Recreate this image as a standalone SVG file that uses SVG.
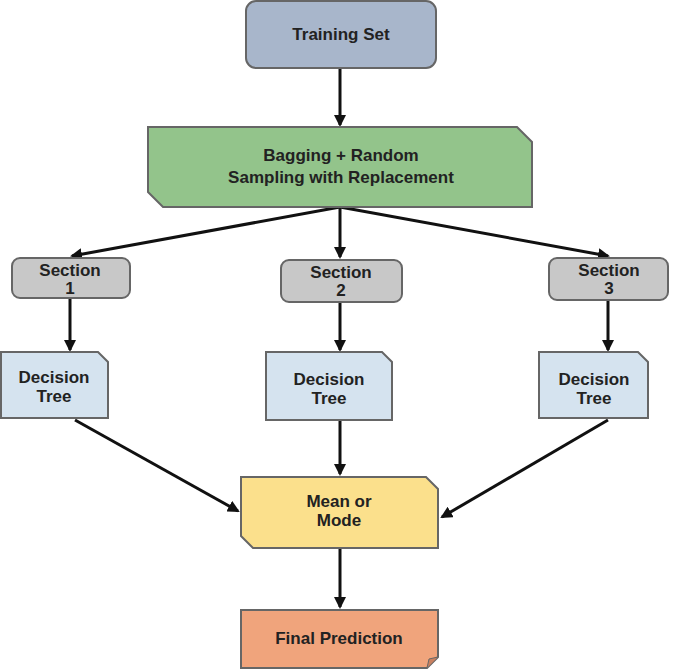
<svg xmlns="http://www.w3.org/2000/svg" width="685" height="671" viewBox="0 0 685 671">
<defs>
<marker id="ah" markerWidth="12" markerHeight="12" refX="10" refY="6" orient="auto" markerUnits="userSpaceOnUse"><path d="M0,0 L12,6 L0,12 z" fill="#111"/></marker>
<style>
.n{stroke:#666;stroke-width:2}
.t{font-family:"Liberation Sans",Arial,sans-serif;font-weight:bold;font-size:17px;fill:#222;text-anchor:middle}
.c line{stroke:#111;stroke-width:3;marker-end:url(#ah)}
</style>
</defs>
<rect width="685" height="671" fill="#fff"/>
<g class="c" id="connectors">
<line x1="340" y1="68" x2="340" y2="125"/>
<line x1="340" y1="207" x2="72" y2="256"/>
<line x1="340" y1="207" x2="340" y2="257"/>
<line x1="340" y1="207" x2="608" y2="256"/>
<line x1="70" y1="298" x2="70" y2="350"/>
<line x1="340" y1="302" x2="340" y2="350"/>
<line x1="608" y1="300" x2="608" y2="350"/>
<line x1="75" y1="420" x2="238" y2="511"/>
<line x1="340" y1="420" x2="340" y2="474"/>
<line x1="608" y1="420" x2="442" y2="517"/>
<line x1="340" y1="548" x2="340" y2="607"/>
</g>
<g id="training"><rect class="n" x="246" y="1" width="190" height="67" rx="10" fill="#a8b6cb"/><text class="t" x="341" y="40">Training Set</text></g>
<g id="bagging"><path class="n" d="M148,127 H517 L532,142 V207 H163 L148,192 Z" fill="#93c48b"/><text class="t" x="341" y="161">Bagging + Random</text><text class="t" x="341" y="183">Sampling with Replacement</text></g>
<g id="s1"><rect class="n" x="12" y="258" width="118" height="40" rx="8" fill="#c8c8c8"/><text class="t" x="70" y="276">Section</text><text class="t" x="70" y="294">1</text></g>
<g id="s2"><rect class="n" x="281" y="260" width="121" height="42" rx="8" fill="#c8c8c8"/><text class="t" x="341" y="278">Section</text><text class="t" x="341" y="296">2</text></g>
<g id="s3"><rect class="n" x="549" y="258" width="119" height="42" rx="8" fill="#c8c8c8"/><text class="t" x="609" y="276">Section</text><text class="t" x="609" y="294">3</text></g>
<g id="dt1"><path class="n" d="M1,352 H98 L108,362 V418 H1 Z" fill="#d5e3ef"/><text class="t" x="54" y="383">Decision</text><text class="t" x="54" y="402">Tree</text></g>
<g id="dt2"><path class="n" d="M266,352 H382 L392,362 V420 H266 Z" fill="#d5e3ef"/><text class="t" x="329" y="385">Decision</text><text class="t" x="329" y="404">Tree</text></g>
<g id="dt3"><path class="n" d="M539,352 H638 L648,362 V418 H539 Z" fill="#d5e3ef"/><text class="t" x="594" y="385">Decision</text><text class="t" x="594" y="404">Tree</text></g>
<g id="mean"><path class="n" d="M241,477 H426 L438,489 V548 H253 L241,536 Z" fill="#fbe08c"/><text class="t" x="339" y="507">Mean or</text><text class="t" x="339" y="526">Mode</text></g>
<g id="final"><path class="n" d="M241,610 H438 V657 L427,668 H241 Z" fill="#f0a47c"/><path d="M427,668 L429,659 L438,657" fill="#c98060" stroke="#666" stroke-width="1"/><text class="t" x="339" y="644">Final Prediction</text></g>
</svg>
